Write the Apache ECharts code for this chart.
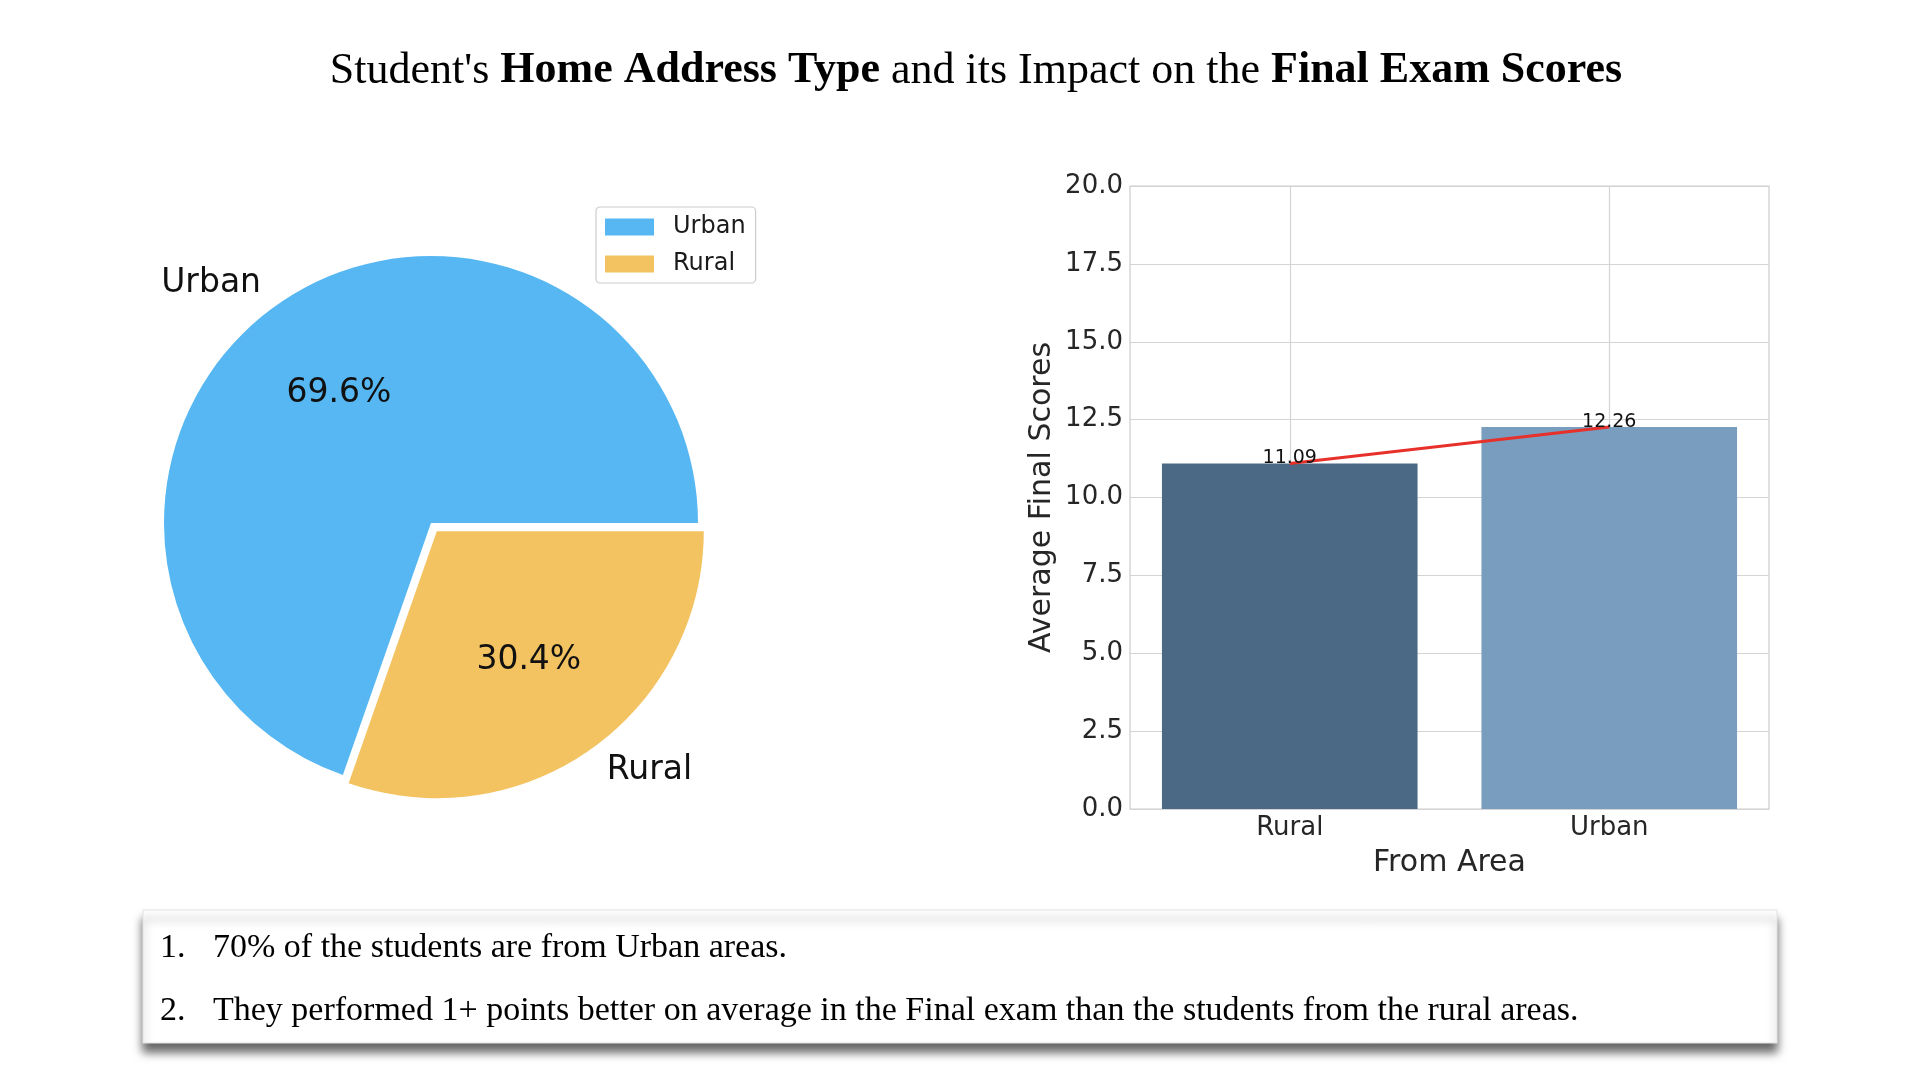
<!DOCTYPE html>
<html>
<head>
<meta charset="utf-8">
<script src="https://cdn.jsdelivr.net/npm/echarts@6/dist/echarts.min.js"></script>
<style>
html,body{margin:0;padding:0;background:#fff;}
#chart{width:1920px;height:1080px;}
</style>
</head>
<body>
<div id="chart"></div>
<script>
// ---- data ----
const pieNames = ['Urban', 'Rural'];
const pieCounts = [452, 197];
const pieColors = ['#56B7F2', '#F4C361'];

const barCategories = ['Rural', 'Urban'];
const barValues = [11.09, 12.26];
const barColors = ['#4B6885', '#789DBE'];

const yTicks = { min: 0, max: 20, interval: 2.5 };

const notes = [
  '70% of the students are from Urban areas.',
  'They performed 1+ points better on average in the Final exam than the students from the rural areas.'
];

const titleParts = [
  ['n', "Student's "], ['b', 'Home Address Type'], ['n', ' and its Impact on the '], ['b', 'Final Exam Scores']
];

// ---- build ----
const total = pieCounts.reduce((a, b) => a + b, 0);
const pieData = pieNames.map((n, i) => ({
  name: n, value: pieCounts[i], selected: n === 'Rural',
  itemStyle: { color: pieColors[i] }
}));
const pieLabelData = pieNames.map((n, i) => ({
  name: n, value: pieCounts[i], selected: n === 'Rural',
  itemStyle: { color: 'rgba(0,0,0,0)' }
}));

const sans = 'DejaVu Sans';
const serif = 'Liberation Serif';
const R = 267;
const C = [431, 523];

const graphics = [
  {
    type: 'text', x: 976, y: 71,
    style: {
      text: titleParts.map(p => '{' + p[0] + '|' + p[1] + '}').join(''),
      align: 'center', verticalAlign: 'middle',
      rich: {
        n: { fontFamily: serif, fontSize: 44, fill: '#000' },
        b: { fontFamily: serif, fontSize: 44, fontWeight: 'bold', fill: '#000' }
      }
    }
  },
  {
    type: 'rect', shape: { x: 143, y: 910, width: 1634, height: 133 },
    style: { fill: '#fff', stroke: '#e2e2e2', lineWidth: 1, shadowBlur: 9, shadowOffsetY: 9, shadowColor: 'rgba(0,0,0,0.6)' },
    z: 1
  }
];
notes.forEach((t, i) => {
  const y = 948 + i * 63;
  graphics.push({ type: 'text', x: 160, y: y, z: 2,
    style: { text: (i + 1) + '.', fontFamily: serif, fontSize: 34, fill: '#000', verticalAlign: 'middle' } });
  graphics.push({ type: 'text', x: 213, y: y, z: 2,
    style: { text: t, fontFamily: serif, fontSize: 34, fill: '#000', verticalAlign: 'middle' } });
});

const option = {
  animation: false,
  backgroundColor: '#fff',
  textStyle: { fontFamily: sans },
  graphic: graphics,
  legend: {
    orient: 'vertical', left: 596, top: 207,
    padding: [8, 10, 7, 9],
    borderColor: '#cccccc', borderWidth: 1.2, borderRadius: 4, backgroundColor: '#fff',
    itemWidth: 49, itemHeight: 17, itemGap: 13, icon: 'rect',
    selectedMode: false,
    textStyle: { fontFamily: sans, fontSize: 24, color: '#1a1a1a', padding: [0, 0, 0, 14], lineHeight: 24 },
    data: pieNames.map((n, i) => ({ name: n, itemStyle: { color: pieColors[i] } }))
  },
  grid: {
    left: 1130, top: 186, right: 151, bottom: 271,
    show: true, borderColor: '#cccccc', borderWidth: 1.2, backgroundColor: '#fff'
  },
  xAxis: {
    type: 'category', data: barCategories,
    axisLine: { show: false }, axisTick: { show: false, alignWithLabel: true },
    splitLine: { show: true, alignWithLabel: true, lineStyle: { color: '#d4d4d4', width: 1.2 } },
    axisLabel: { fontFamily: sans, fontSize: 26, color: '#262626', margin: 6 },
    name: 'From Area', nameLocation: 'middle', nameGap: 39,
    nameTextStyle: { fontFamily: sans, fontSize: 30, color: '#262626' }
  },
  yAxis: {
    type: 'value', min: yTicks.min, max: yTicks.max, interval: yTicks.interval,
    axisLine: { show: false }, axisTick: { show: false },
    splitLine: { show: true, lineStyle: { color: '#d4d4d4', width: 1.2 } },
    axisLabel: { fontFamily: sans, fontSize: 26, color: '#262626', margin: 7, formatter: v => v.toFixed(1) },
    name: 'Average Final Scores', nameLocation: 'middle', nameGap: 73,
    nameTextStyle: { fontFamily: sans, fontSize: 30, color: '#262626' }
  },
  series: [
    {
      type: 'pie', center: C, radius: R, startAngle: 0, clockwise: false,
      selectedMode: 'single', selectedOffset: 10,
      data: pieData,
      label: { show: true, position: 'outside', formatter: '{b}', fontFamily: sans, fontSize: 33, color: '#111', distanceToLabelLine: 0 },
      labelLine: { show: false, length: R * 0.1, length2: 0 },
      emphasis: { disabled: true }
    },
    {
      type: 'pie', center: C, radius: [45, R], startAngle: 0, clockwise: false,
      selectedMode: 'single', selectedOffset: 10, silent: true,
      data: pieLabelData,
      label: {
        show: true, position: 'inside', fontFamily: sans, fontSize: 33, color: '#111',
        formatter: p => (p.value / total * 100).toFixed(1) + '%'
      },
      labelLine: { show: false },
      emphasis: { disabled: true }
    },
    {
      type: 'bar', data: barValues.map((v, i) => ({ value: v, itemStyle: { color: barColors[i] } })),
      barWidth: '80%', z: 2
    },
    {
      type: 'line', data: barValues, symbol: 'circle', symbolSize: 1, showSymbol: true, z: 5,
      itemStyle: { color: 'rgba(0,0,0,0)' },
      lineStyle: { color: '#E8302A', width: 3 },
      label: { show: true, position: 'top', distance: -5, fontFamily: sans, fontSize: 19, color: '#111',
        formatter: p => p.value.toFixed(2) },
      emphasis: { disabled: true }
    }
  ]
};

const chart = echarts.init(document.getElementById('chart'), null, { renderer: 'canvas' });
chart.setOption(option);
</script>
</body>
</html>
